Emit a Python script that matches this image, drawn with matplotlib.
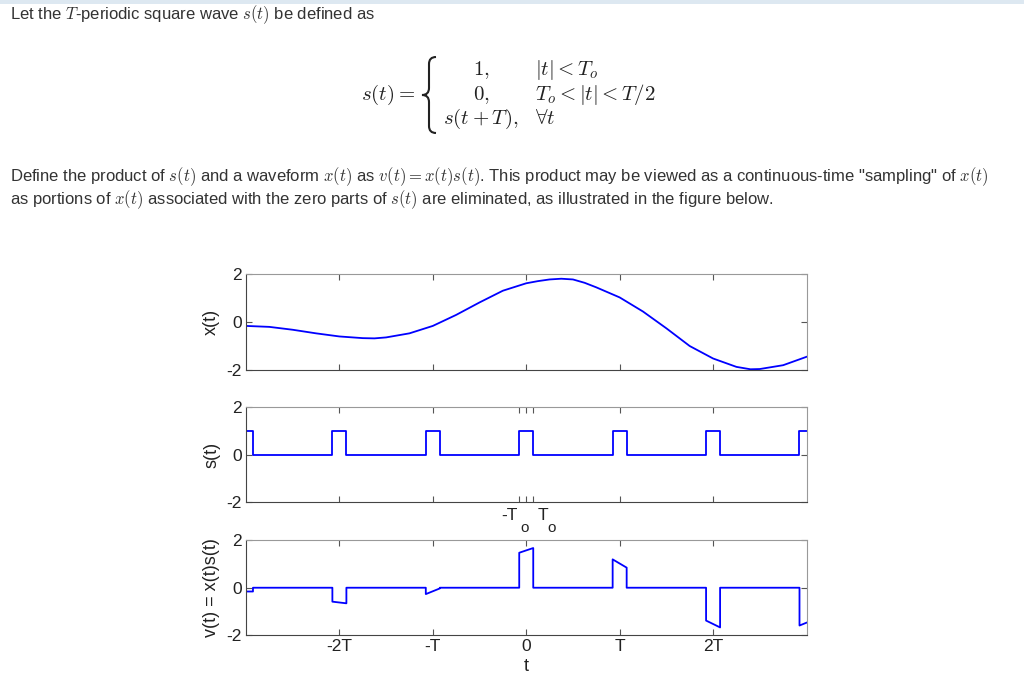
import matplotlib
matplotlib.use('Agg')
import matplotlib.pyplot as plt
from matplotlib.path import Path
from matplotlib.patches import PathPatch, Rectangle

plt.rcParams['font.family'] = ['Liberation Sans', 'DejaVu Sans']
plt.rcParams['mathtext.fontset'] = 'cm'

# time axis in units of T
T_o = 0.075
t_min, t_max = -3, 3

# x(t)
t_x = [-3, -2.75, -2.5, -2.25, -2, -1.75, -1.625, -1.5, -1.25, -1, -0.75, -0.5,
       -0.25, 0, 0.125, 0.25, 0.375, 0.5, 0.625, 0.75, 1, 1.25, 1.5, 1.75, 2,
       2.25, 2.4, 2.5, 2.75, 3]
x_vals = [-0.18, -0.22, -0.34, -0.49, -0.62, -0.69, -0.70, -0.66, -0.49, -0.18,
          0.28, 0.80, 1.29, 1.60, 1.69, 1.76, 1.79, 1.76, 1.62, 1.43, 1.01, 0.42,
          -0.28, -1.02, -1.54, -1.89, -1.99, -1.98, -1.82, -1.47]

# sampling pulses, and v(t) at the start / end of every pulse
pulse_centers = [-3, -2, -1, 0, 1, 2, 3]
v_start = [-0.16, -0.59, -0.27, 1.48, 1.20, -1.39, -1.60]
v_end = [-0.16, -0.66, -0.03, 1.68, 0.85, -1.68, -1.36]

period_ticks = [-2, -1, 0, 1, 2]
period_labels = ['-2T', '-T', '0', 'T', '2T']
y_ticks = [-2, 0, 2]
y_labels = ['-2', '0', '2']

W, H = 1024, 680
TEXT = '#333333'
DARK = '#222222'
BLUE = '#0000ff'


def fx(x):
    return x / W


def fy(y):
    return 1 - y / H


def draw_brace(fig, x_tip, x_right, y_top, y_bot):
    """Curly brace drawn as a path, pixel coords with y downwards"""
    x_mid = (x_tip + x_right) / 2
    y_mid = (y_top + y_bot) / 2
    r = (x_right - x_tip) / 2
    pts = [(x_right, y_top), (x_mid, y_top), (x_mid, y_top + r),
           (x_mid, y_mid - r), (x_mid, y_mid), (x_tip, y_mid),
           (x_mid, y_mid), (x_mid, y_mid + r),
           (x_mid, y_bot - r), (x_mid, y_bot), (x_right, y_bot)]
    codes = [Path.MOVETO, Path.CURVE3, Path.CURVE3, Path.LINETO, Path.CURVE3,
             Path.CURVE3, Path.CURVE3, Path.CURVE3, Path.LINETO, Path.CURVE3,
             Path.CURVE3]
    verts = [(fx(x), fy(y)) for x, y in pts]
    fig.patches.append(PathPatch(Path(verts, codes), transform=fig.transFigure,
                                 fill=False, lw=1.5, ec=DARK))


def style_axes(ax, ylabel):
    ax.set_xlim(t_min, t_max)
    ax.set_ylim(-2, 2)
    ax.set_yticks(y_ticks)
    ax.set_yticklabels(y_labels)
    ax.tick_params(direction='in', length=4, width=0.8, color='#555555',
                   top=True, right=True, labelsize=12.5, pad=3,
                   labelcolor=DARK)
    for side in ['top', 'right']:
        ax.spines[side].set_color('#999999')
    for side in ['left', 'bottom']:
        ax.spines[side].set_color('#444444')
    for sp in ax.spines.values():
        sp.set_linewidth(0.8)
    ax.set_ylabel(ylabel, fontsize=13, color=DARK)
    ax.yaxis.set_label_coords(-0.046, 0.5)


fig = plt.figure(figsize=(10.24, 6.8), dpi=100)

# light strip at the very top of the page
fig.patches.append(Rectangle((0, fy(4)), 1, 4 / H, transform=fig.transFigure,
                             color='#dde8f1', lw=0))

fs = 12
fig.text(fx(10), fy(19), r'Let the $T$-periodic square wave $s(t)$ be defined as',
         fontsize=fs, color=TEXT)

# piecewise definition of s(t)
eq = 15
fig.text(fx(415), fy(100), r'$s(t) =$', ha='right', fontsize=eq, color=DARK)
draw_brace(fig, 422, 436, 57, 133)
rows_left = [r'$1,$', r'$0,$', r'$s(t+T),$']
rows_right = [r'$|t| < T_o$', r'$T_o < |t| < T/2$', r'$\forall t$']
for base, a, b in zip([75, 100, 124], rows_left, rows_right):
    fig.text(fx(481), fy(base), a, ha='center', fontsize=eq, color=DARK)
    fig.text(fx(535), fy(base), b, ha='left', fontsize=eq, color=DARK)

fig.text(fx(10), fy(181),
         r'Define the product of $s(t)$ and a waveform $x(t)$ as $v(t) = x(t)s(t)$.'
         r' This product may be viewed as a continuous-time "sampling" of $x(t)$',
         fontsize=fs, color=TEXT)
fig.text(fx(10), fy(204),
         r'as portions of $x(t)$ associated with the zero parts of $s(t)$ are'
         r' eliminated, as illustrated in the figure below.',
         fontsize=fs, color=TEXT)

left, width = 0.2402, 0.5474
ax1 = fig.add_axes([left, 0.4566, width, 0.1409])
ax2 = fig.add_axes([left, 0.2613, width, 0.1406])
ax3 = fig.add_axes([left, 0.0662, width, 0.1390])

# x(t)
ax1.plot(t_x, x_vals, color=BLUE, lw=1.3)
style_axes(ax1, 'x(t)')
ax1.set_xticks(period_ticks)
ax1.set_xticklabels([''] * len(period_ticks))

# s(t)
s_t, s_v = [], []
for k in pulse_centers:
    s_t += [k - T_o, k - T_o, k + T_o, k + T_o]
    s_v += [0, 1, 1, 0]
ax2.plot(s_t, s_v, color=BLUE, lw=1.3)
style_axes(ax2, 's(t)')
ax2.set_xticks([-2, -1, -T_o, 0, T_o, 1, 2])
ax2.set_xticklabels([''] * 7)
# -T_o / T_o labels, with the MATLAB-style dropped subscript
for tick, txt, dx, dy, ha, size in [(-T_o, '-T', -1.4, -9.7, 'right', 12.5),
                                    (-T_o, 'o', 4.0, -18.4, 'center', 11),
                                    (T_o, 'T', 2.9, -9.7, 'left', 12.5),
                                    (T_o, 'o', 13.3, -18.4, 'center', 11)]:
    ax2.annotate(txt, xy=(tick, 0), xycoords=('data', 'axes fraction'),
                 xytext=(dx, dy), textcoords='offset points',
                 ha=ha, va='center', fontsize=size, color=DARK)

# v(t) = x(t)s(t)
v_t, v_v = [], []
for k, a, b in zip(pulse_centers, v_start, v_end):
    v_t += [k - T_o, k - T_o, k + T_o, k + T_o]
    v_v += [0, a, b, 0]
ax3.plot(v_t, v_v, color=BLUE, lw=1.3)
style_axes(ax3, 'v(t) = x(t)s(t)')
ax3.set_xticks(period_ticks)
ax3.set_xticklabels(period_labels)
ax3.set_xlabel('t', fontsize=13, color=DARK, labelpad=3)

fig.savefig('out.png', dpi=100)
